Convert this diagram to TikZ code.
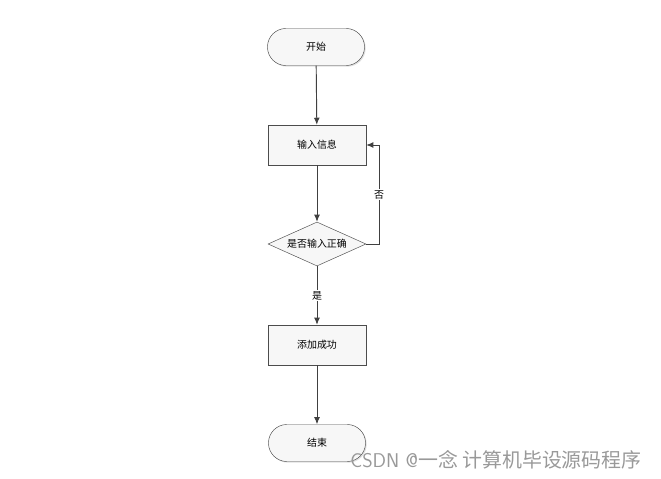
\documentclass[tikz,border=0pt]{standalone}
\usepackage{fontspec}
\newfontfamily\cjk{Noto Sans CJK SC}
\usetikzlibrary{shapes.geometric,shadows,arrows.meta}
\begin{document}
\begin{tikzpicture}[
	x=0.03cm,y=-0.03cm,
	every node/.style={font=\cjk\fontsize{8.5}{10}\selectfont},
	terminal/.style={draw=black!70,fill=gray!6,rounded corners=0.55cm,minimum width=2.91cm,minimum height=1.11cm,drop shadow={shadow xshift=1pt,shadow yshift=-1pt,fill=black!25}},
	procbox/.style={draw=black!70,fill=gray!6,minimum width=2.94cm,minimum height=1.2cm,drop shadow={shadow xshift=1pt,shadow yshift=-1pt,fill=black!25}},
	decision/.style={diamond,draw=black!70,fill=gray!6,inner sep=0pt,aspect=2.2,minimum width=2.94cm,minimum height=1.32cm},
	flow/.style={draw=black!75,thick,-{Latex[length=6pt,width=5pt]}}
]

	\useasboundingbox (0,0) rectangle (661,479);

	\node[terminal] at (316,47) (start) {开始};
	\node[procbox] at (317,145) (input) {输入信息};
	\node[decision,label=center:{是否输入正确}] at (317,244) (check) {};
	\node[procbox] at (317,345) (add) {添加成功};
	\node[terminal] at (317,443) (stop) {结束};

	\draw[flow] (start) -- (input);
	\draw[flow] (input) -- (check);
	\draw[flow] (check) -- node[fill=white,inner sep=1pt] {是} (add);
	\draw[flow] (add) -- (stop);

	\coordinate (loopbot) at (379,244);
	\coordinate (looptop) at (379,145);
	\draw[flow] (check.east) -- (loopbot) -- node[fill=white,inner sep=1pt] {否} (looptop) -- (input.east);

	\node[text=black!40,font=\sffamily\fontsize{17}{19}\selectfont] at (496,460) (mark) {CSDN @{\cjk 一念 计算机毕设源码程序}};

\end{tikzpicture}
\end{document}
